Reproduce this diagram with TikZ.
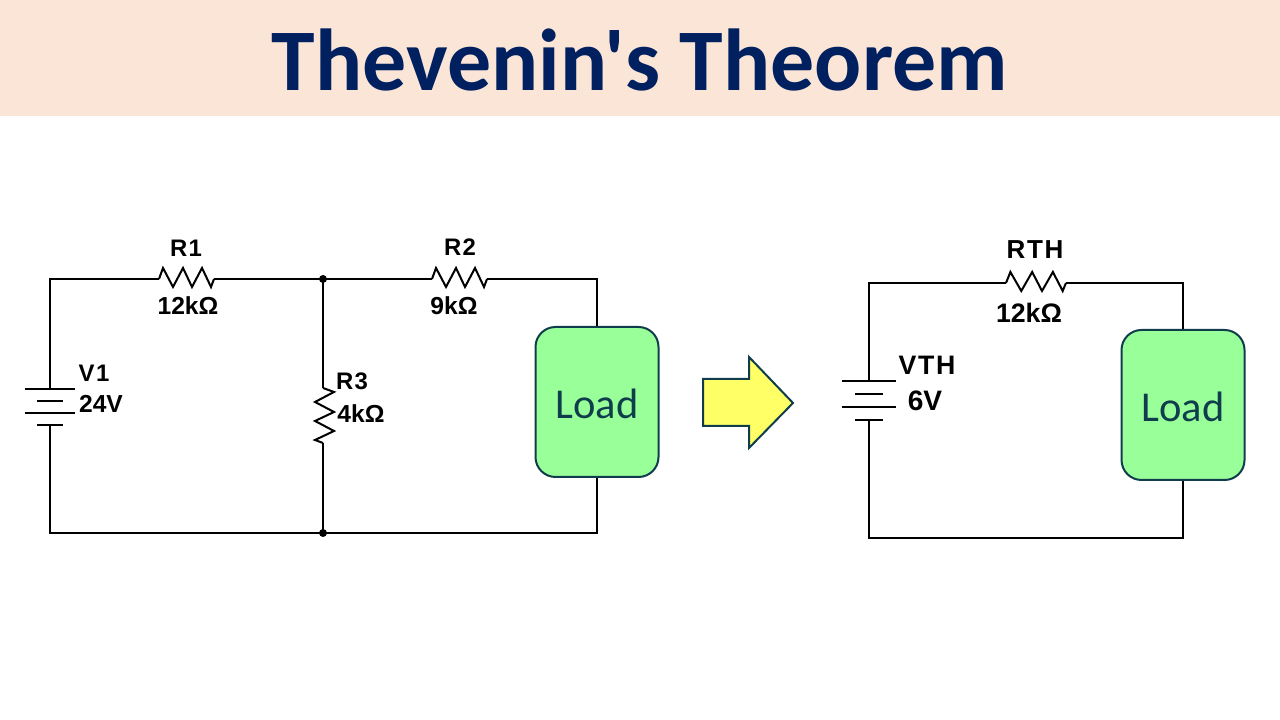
\documentclass[tikz,border=0pt]{standalone}
\usepackage{fontspec}
\setmainfont{Liberation Sans}
\newfontfamily\calibrifont{Carlito}
\newfontfamily\spacedfont[LetterSpace=6]{Liberation Sans}
\definecolor{headbg}{HTML}{FBE5D6}
\definecolor{titleblue}{HTML}{002060}
\definecolor{loadgreen}{HTML}{99FF99}
\definecolor{loadline}{HTML}{0F3D4C}
\definecolor{arrowyellow}{HTML}{FFFF66}

\tikzset{
    wire/.style={black, line width=0.023cm},
    partlabel/.style={font=\fontsize{7}{8}\selectfont\bfseries, inner sep=0pt},
    namelabel/.style={font=\fontsize{6.8}{8}\spacedfont\bfseries, inner sep=0pt},
    biglabel/.style={font=\fontsize{7.6}{9}\selectfont\bfseries, inner sep=0pt},
    loadbox/.style={draw=loadline, fill=loadgreen, line width=0.02cm, rounded corners=0.2cm,
        minimum width=1.23cm, minimum height=1.5cm, inner sep=0pt, text=loadline,
        text height=9.5pt, text depth=0pt, font=\fontsize{12.1}{14}\calibrifont},
    reszig/.pic={
        \coordinate (-in) at (0,0);
        \coordinate (-out) at (0.55,0);
        \draw[black, line width=0.02cm] (-in) -- (0.04,0.11) -- (0.14,-0.08) -- (0.24,0.11)
            -- (0.33,-0.08) -- (0.43,0.11) -- (0.52,-0.08) -- (-out);
    },
    battery/.pic={
        \coordinate (-top) at (0,0);
        \coordinate (-bot) at (0,-0.36);
        \draw[wire] (-0.25,0) -- (0.25,0);
        \draw[wire] (-0.13,-0.12) -- (0.13,-0.12);
        \draw[wire] (-0.25,-0.24) -- (0.25,-0.24);
        \draw[wire] (-0.13,-0.36) -- (0.13,-0.36);
    }
}

\begin{document}
\begin{tikzpicture}
    \useasboundingbox (0,0) rectangle (12.8,7.2);

    % Cabecera
    \fill[headbg] (0,6.04) rectangle (12.8,7.2);
    \node[text=titleblue, font=\fontsize{25}{28}\calibrifont\bfseries, inner sep=0pt] (title) at (6.40,6.60) {Thevenin's Theorem};

    % Circuito izquierdo
    \pic (v1) at (0.50,3.31) {battery};
    \pic (r1) at (1.59,4.41) {reszig};
    \pic (r2) at (4.32,4.41) {reszig};
    \pic[rotate=-90] (r3) at (3.23,3.32) {reszig};
    \node[loadbox] (load1) at (5.97,3.18) {Load};
    \coordinate (nodetop) at (3.23,4.41);
    \coordinate (nodebot) at (3.23,1.87);

    \draw[wire] (v1-top) |- (r1-in);
    \draw[wire] (r1-out) -- (r2-in);
    \draw[wire] (r2-out) -| (load1.north);
    \draw[wire] (nodetop) -- (r3-in);
    \draw[wire] (r3-out) -- (nodebot);
    \draw[wire] (v1-bot) |- (nodebot);
    \draw[wire] (nodebot) -| (load1.south);

    % Puntos
    \fill[black] (nodetop) circle (0.04);
    \fill[black] (nodebot) circle (0.04);

    % Etiquetas
    \node[namelabel] (r1name) at (1.86,4.72) {R1};
    \node[partlabel] (r1val) at (1.88,4.14) {12kΩ};
    \node[namelabel] (r2name) at (4.60,4.73) {R2};
    \node[partlabel] (r2val) at (4.54,4.14) {9kΩ};
    \node[namelabel] (r3name) at (3.52,3.39) {R3};
    \node[partlabel] (r3val) at (3.61,3.06) {4kΩ};
    \node[namelabel] (v1name) at (0.94,3.47) {V1};
    \node[partlabel] (v1val) at (1.01,3.16) {24V};

    % Flecha
    \filldraw[fill=arrowyellow, draw=loadline, line width=0.02cm] (7.03,3.41) -- (7.49,3.41) -- (7.49,3.63)
        -- (7.93,3.17) -- (7.49,2.72) -- (7.49,2.94) -- (7.03,2.94) -- cycle;

    % Circuito derecho
    \pic[scale=1.08] (vth) at (8.69,3.39) {battery};
    \pic[xscale=1.09] (rth) at (10.06,4.37) {reszig};
    \node[loadbox] (load2) at (11.83,3.15) {Load};
    \draw[wire] (vth-top) |- (rth-in);
    \draw[wire] (rth-out) -| (load2.north);
    \draw[wire] (vth-bot) |- (load2.south |- 0,1.82) -- (load2.south);

    \node[biglabel, font=\fontsize{7.4}{9}\spacedfont\bfseries] (rthname) at (10.35,4.70) {RTH};
    \node[biglabel] (rthval) at (10.29,4.07) {12kΩ};
    \node[biglabel, font=\fontsize{7.6}{9}\spacedfont\bfseries] (vthname) at (9.27,3.55) {VTH};
    \node[biglabel, font=\fontsize{8}{9}\selectfont\bfseries] (vthval) at (9.25,3.19) {6V};
\end{tikzpicture}
\end{document}
